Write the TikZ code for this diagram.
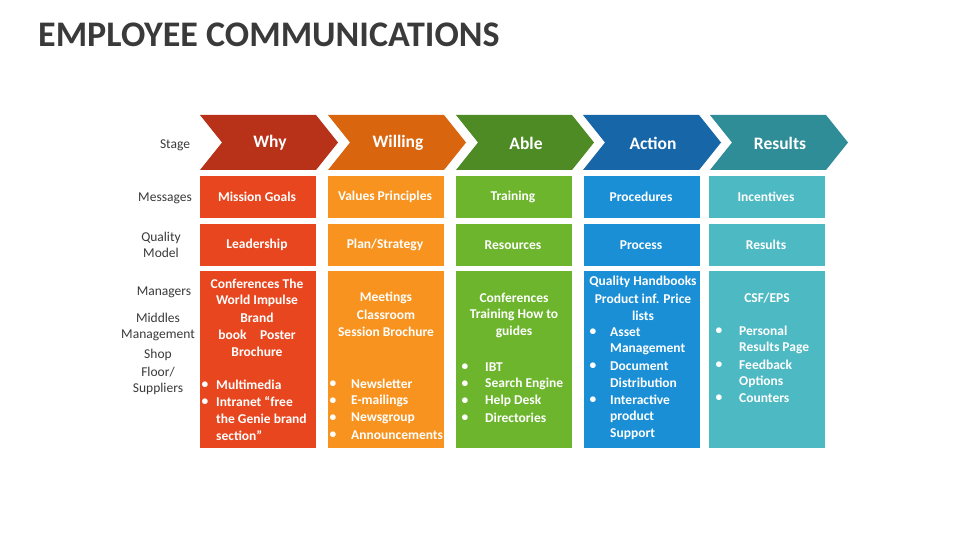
\documentclass[tikz,border=0pt]{standalone}
\usepackage{fontspec}
\setmainfont{Carlito}
\definecolor{cA}{HTML}{B8321A}\definecolor{cB}{HTML}{D9660F}\definecolor{cC}{HTML}{4F8B25}\definecolor{cD}{HTML}{1767A8}\definecolor{cE}{HTML}{2F8D97}
\definecolor{bA}{HTML}{E8461E}\definecolor{bB}{HTML}{F7931E}\definecolor{bC}{HTML}{6DB52D}\definecolor{bD}{HTML}{1A8FD6}\definecolor{bE}{HTML}{4DB9C3}
\definecolor{ink}{HTML}{3A3A3A}
\begin{document}
\begin{tikzpicture}[x=1pt,y=-1pt,
 lbl/.style={font=\fontsize{13.5}{15}\selectfont,text=ink,align=center,inner sep=0pt},
 chev/.style={text=white,font=\fontsize{17.5}{20}\selectfont\bfseries},
 tx/.style={text=white,font=\fontsize{13.5}{14}\selectfont\bfseries,inner sep=0pt},
]
\useasboundingbox (0,0) rectangle (960,540);
\fill[white] (0,0) rectangle (960,540);
\node[anchor=west,text=ink,font=\fontsize{36}{38}\selectfont\bfseries,inner sep=0pt] (title) at (38,35) {EMPLOYEE COMMUNICATIONS};
% chevrons
\foreach \x/\c/\t/\n in {200/cA/Why/ch1,328/cB/Willing/ch2,456/cC/Able/ch3,583/cD/Action/ch4,710/cE/Results/ch5}{
 \fill[\c] (\x,115) -- (\x+116,115) -- (\x+138,142.5) -- (\x+116,170) -- (\x,170) -- (\x+22,142.5) -- cycle;
 \node[chev] (\n) at (\x+70,143) {\t};
}
% row labels
\node[lbl] (l1) at (175,145) {Stage};
\node[lbl] (l2) at (165,198) {Messages};
\node[lbl] (l3) at (161,245) {Quality\\[1pt]Model};
\node[lbl] (l4a) at (164,292) {Managers};
\foreach \y/\s/\k in {318/Middles/b,335/Management/c,355/Shop/d,372/Floor\slash/e,389/Suppliers/f}{\node[lbl] (l4\k) at (158,\y) {\s};}
% boxes
\foreach \x/\c/\m/\q/\i in {200/bA/Mission Goals/Leadership/1,328/bB/Values Principles/Plan\slash Strategy/2,456/bC/Training/Resources/3,584/bD/Procedures/Process/4,709/bE/Incentives/Results/5}{
 \fill[\c] (\x,176) rectangle (\x+116,218);
 \node[tx] (m\i) at (\x+57,197) {\m};
 \fill[\c] (\x,224) rectangle (\x+116,266);
 \node[tx] (q\i) at (\x+57,245) {\q};
 \fill[\c] (\x,271) rectangle (\x+116,448);
}
% column 1
\foreach \y/\s/\k in {284/Conferences The/a,301/World Impulse/b,318/Brand/c,335/book\quad Poster/d,352/Brochure/e}{\node[tx] (t1\k) at (257,\y) {\s};}
\foreach \y/\s/\k in {385/Multimedia/a,402/Intranet “free/b,419/the Genie brand/c,436/section”/d}{\node[tx,anchor=west] (c1\k) at (216,\y) {\s};}
\node[tx] (d1a) at (205,385) {•};\node[tx] (d1b) at (205,402) {•};
% column 2
\foreach \y/\s/\k in {298/Meetings/a,315/Classroom/b,332/Session Brochure/c}{\node[tx] (t2\k) at (386,\y) {\s};}
\foreach \y/\s/\k in {384/Newsletter/a,401/E-mailings/b,418/Newsgroup/c,435/Announcements/d}{\node[tx,anchor=west] (c2\k) at (351,\y) {\s};\node[tx] (d2\k) at (333,\y) {•};}
% column 3
\foreach \y/\s/\k in {298/Conferences/a,315/Training How to/b,332/guides/c}{\node[tx] (t3\k) at (514,\y) {\s};}
\foreach \y/\s/\k in {367/IBT/a,384/Search Engine/b,401/Help Desk/c,418/Directories/d}{\node[tx,anchor=west] (c3\k) at (485,\y) {\s};\node[tx] (d3\k) at (465,\y) {•};}
% column 4
\foreach \y/\s/\k in {282/Quality Handbooks/a,299/Product inf. Price/b,316/lists/c}{\node[tx] (t4\k) at (643,\y) {\s};}
\foreach \y/\s/\k in {332/Asset/a,349/Management/b,366/Document/c,383/Distribution/d,400/Interactive/e,417/product/f,434/Support/g}{\node[tx,anchor=west] (c4\k) at (610,\y) {\s};}
\foreach \y/\k in {332/a,366/b,400/c}{\node[tx] (d4\k) at (593,\y) {•};}
% column 5
\node[tx] (t5) at (767,298) {CSF/EPS};
\foreach \y/\s/\k in {331/Personal/a,348/Results Page/b,365/Feedback/c,382/Options/d,398/Counters/e}{\node[tx,anchor=west] (c5\k) at (739,\y) {\s};}
\foreach \y/\k in {331/a,365/b,398/c}{\node[tx] (d5\k) at (719,\y) {•};}
\end{tikzpicture}
\end{document}
